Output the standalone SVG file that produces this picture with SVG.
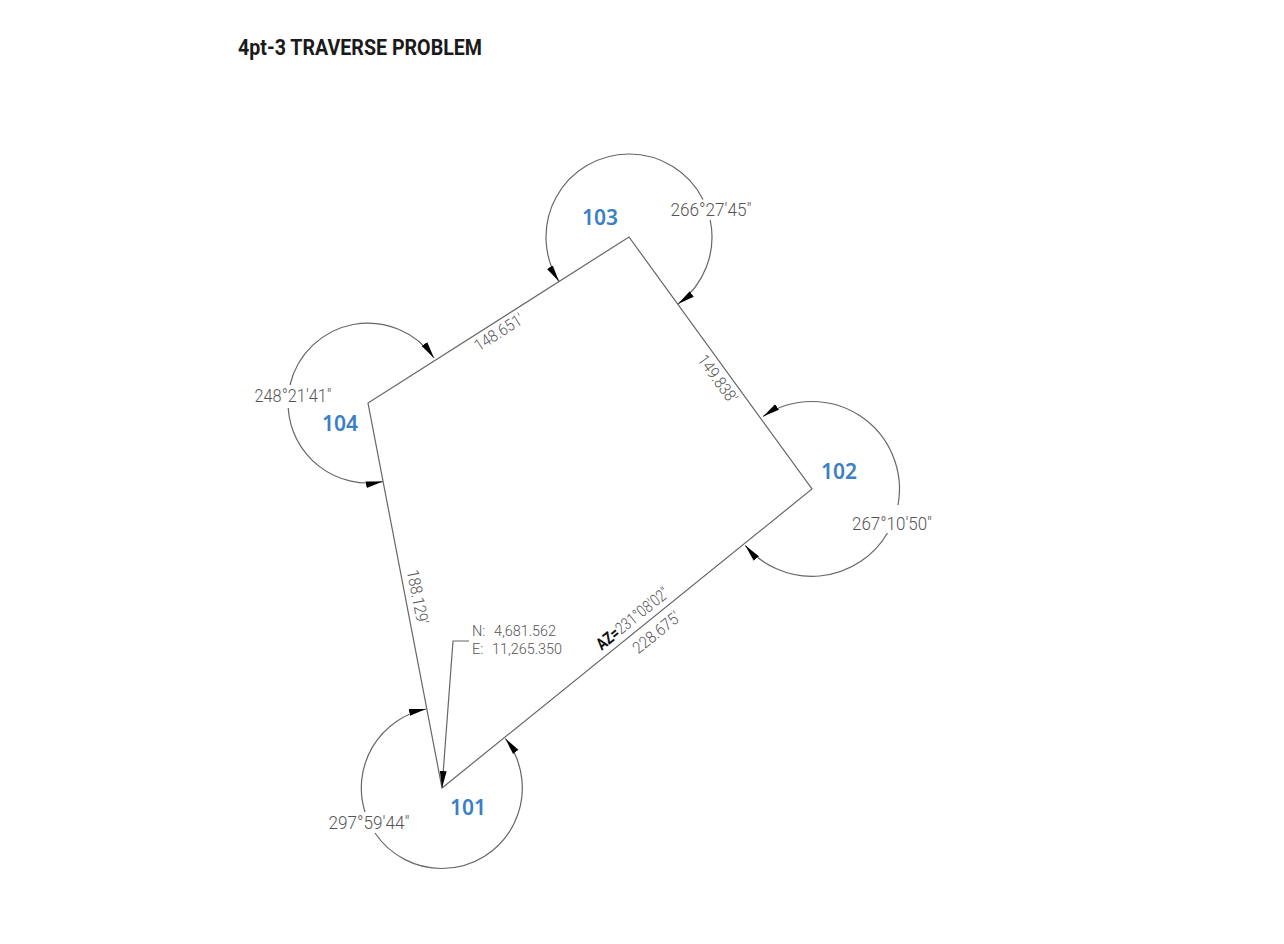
<svg xmlns="http://www.w3.org/2000/svg" width="1284" height="944" viewBox="0 0 1284 944">
<style>
.l{fill:none;stroke:#666;stroke-width:1.2}
.a{marker-end:url(#ah)}
.t,.d,.c{font-family:"Roboto","Liberation Sans",sans-serif;font-weight:300;fill:#555}
.t{font-size:18.500px;text-anchor:middle}
.d{font-size:16.500px;text-anchor:middle}
.n{font-family:"Noto Sans","Open Sans",sans-serif;font-weight:600;fill:#3b7fc4;font-size:21px;text-anchor:middle}
.c{font-size:14.500px}
</style>
<defs>
<marker id="ah" markerUnits="userSpaceOnUse" markerWidth="20" markerHeight="10" refX="17" refY="4" orient="auto"><path d="M0 .6L17 4L0 7.400Z" fill="#000"/></marker>
</defs>
<rect width="1284" height="944" fill="#fff"/>
<text id="title" x="238" y="55" font-family="Roboto,sans-serif" font-weight="700" font-size="21.500" fill="#1a1a1a" textLength="244" lengthAdjust="spacingAndGlyphs">4pt-3 TRAVERSE PROBLEM</text>
<g id="connectors">
<path id="boundary" class="l" d="M442 788L812 489L629 237L368 403Z"/>
<path id="leader" class="l a" d="M469 641H453L442 788"/>
<path class="l a" d="M710.200 220A83 83 0 0 1 678 304"/>
<path class="l a" d="M703 199.400A83 83 0 0 0 629 154A83 83 0 0 0 559 281.600"/>
<path class="l a" d="M898 505A87.500 87.500 0 0 0 763 416.500"/>
<path class="l a" d="M887.500 533A87.500 87.500 0 0 1 745.300 545.500"/>
<path class="l a" d="M290 385A80 80 0 0 1 434 358"/>
<path class="l a" d="M288.200 408A80 80 0 0 0 382.800 481.600"/>
<path class="l a" d="M365 812A80.500 80.500 0 0 1 426 709"/>
<path class="l a" d="M375 833A80.500 80.500 0 0 0 442 868.500A80.500 80.500 0 0 0 505.300 738.500"/>
</g>
<g id="node-101"><text class="n" x="468" y="815">101</text><text class="t" x="369" y="829" textLength="81" lengthAdjust="spacingAndGlyphs">297°59'44"</text></g>
<g id="node-102"><text class="n" x="839" y="479">102</text><text class="t" x="892" y="530" textLength="80" lengthAdjust="spacingAndGlyphs">267°10'50"</text></g>
<g id="node-103"><text class="n" x="600" y="225">103</text><text class="t" x="711" y="216" textLength="81" lengthAdjust="spacingAndGlyphs">266°27'45"</text></g>
<g id="node-104"><text class="n" x="340" y="431">104</text><text class="t" x="293" y="402" textLength="77" lengthAdjust="spacingAndGlyphs">248°21'41"</text></g>
<g id="labels">
<text class="d" transform="translate(502 337) rotate(-32.500)" textLength="55" lengthAdjust="spacingAndGlyphs">148.651'</text>
<text class="d" transform="translate(713 382) rotate(54)" textLength="55" lengthAdjust="spacingAndGlyphs">149.838'</text>
<text class="d" transform="translate(412 598) rotate(79.100)" textLength="55" lengthAdjust="spacingAndGlyphs">188.129'</text>
<text class="d" transform="translate(636 623) rotate(-38.900)" textLength="88" lengthAdjust="spacingAndGlyphs"><tspan font-weight="700" fill="#111">AZ=</tspan>231°08'02"</text>
<text class="d" transform="translate(660 637) rotate(-38.900)" textLength="56" lengthAdjust="spacingAndGlyphs">228.675'</text>
<text class="c" x="472" y="636">N:</text><text class="c" x="494" y="636" textLength="62" lengthAdjust="spacingAndGlyphs">4,681.562</text>
<text class="c" x="472" y="654">E:</text><text class="c" x="492" y="654" textLength="70" lengthAdjust="spacingAndGlyphs">11,265.350</text>
</g>
</svg>
